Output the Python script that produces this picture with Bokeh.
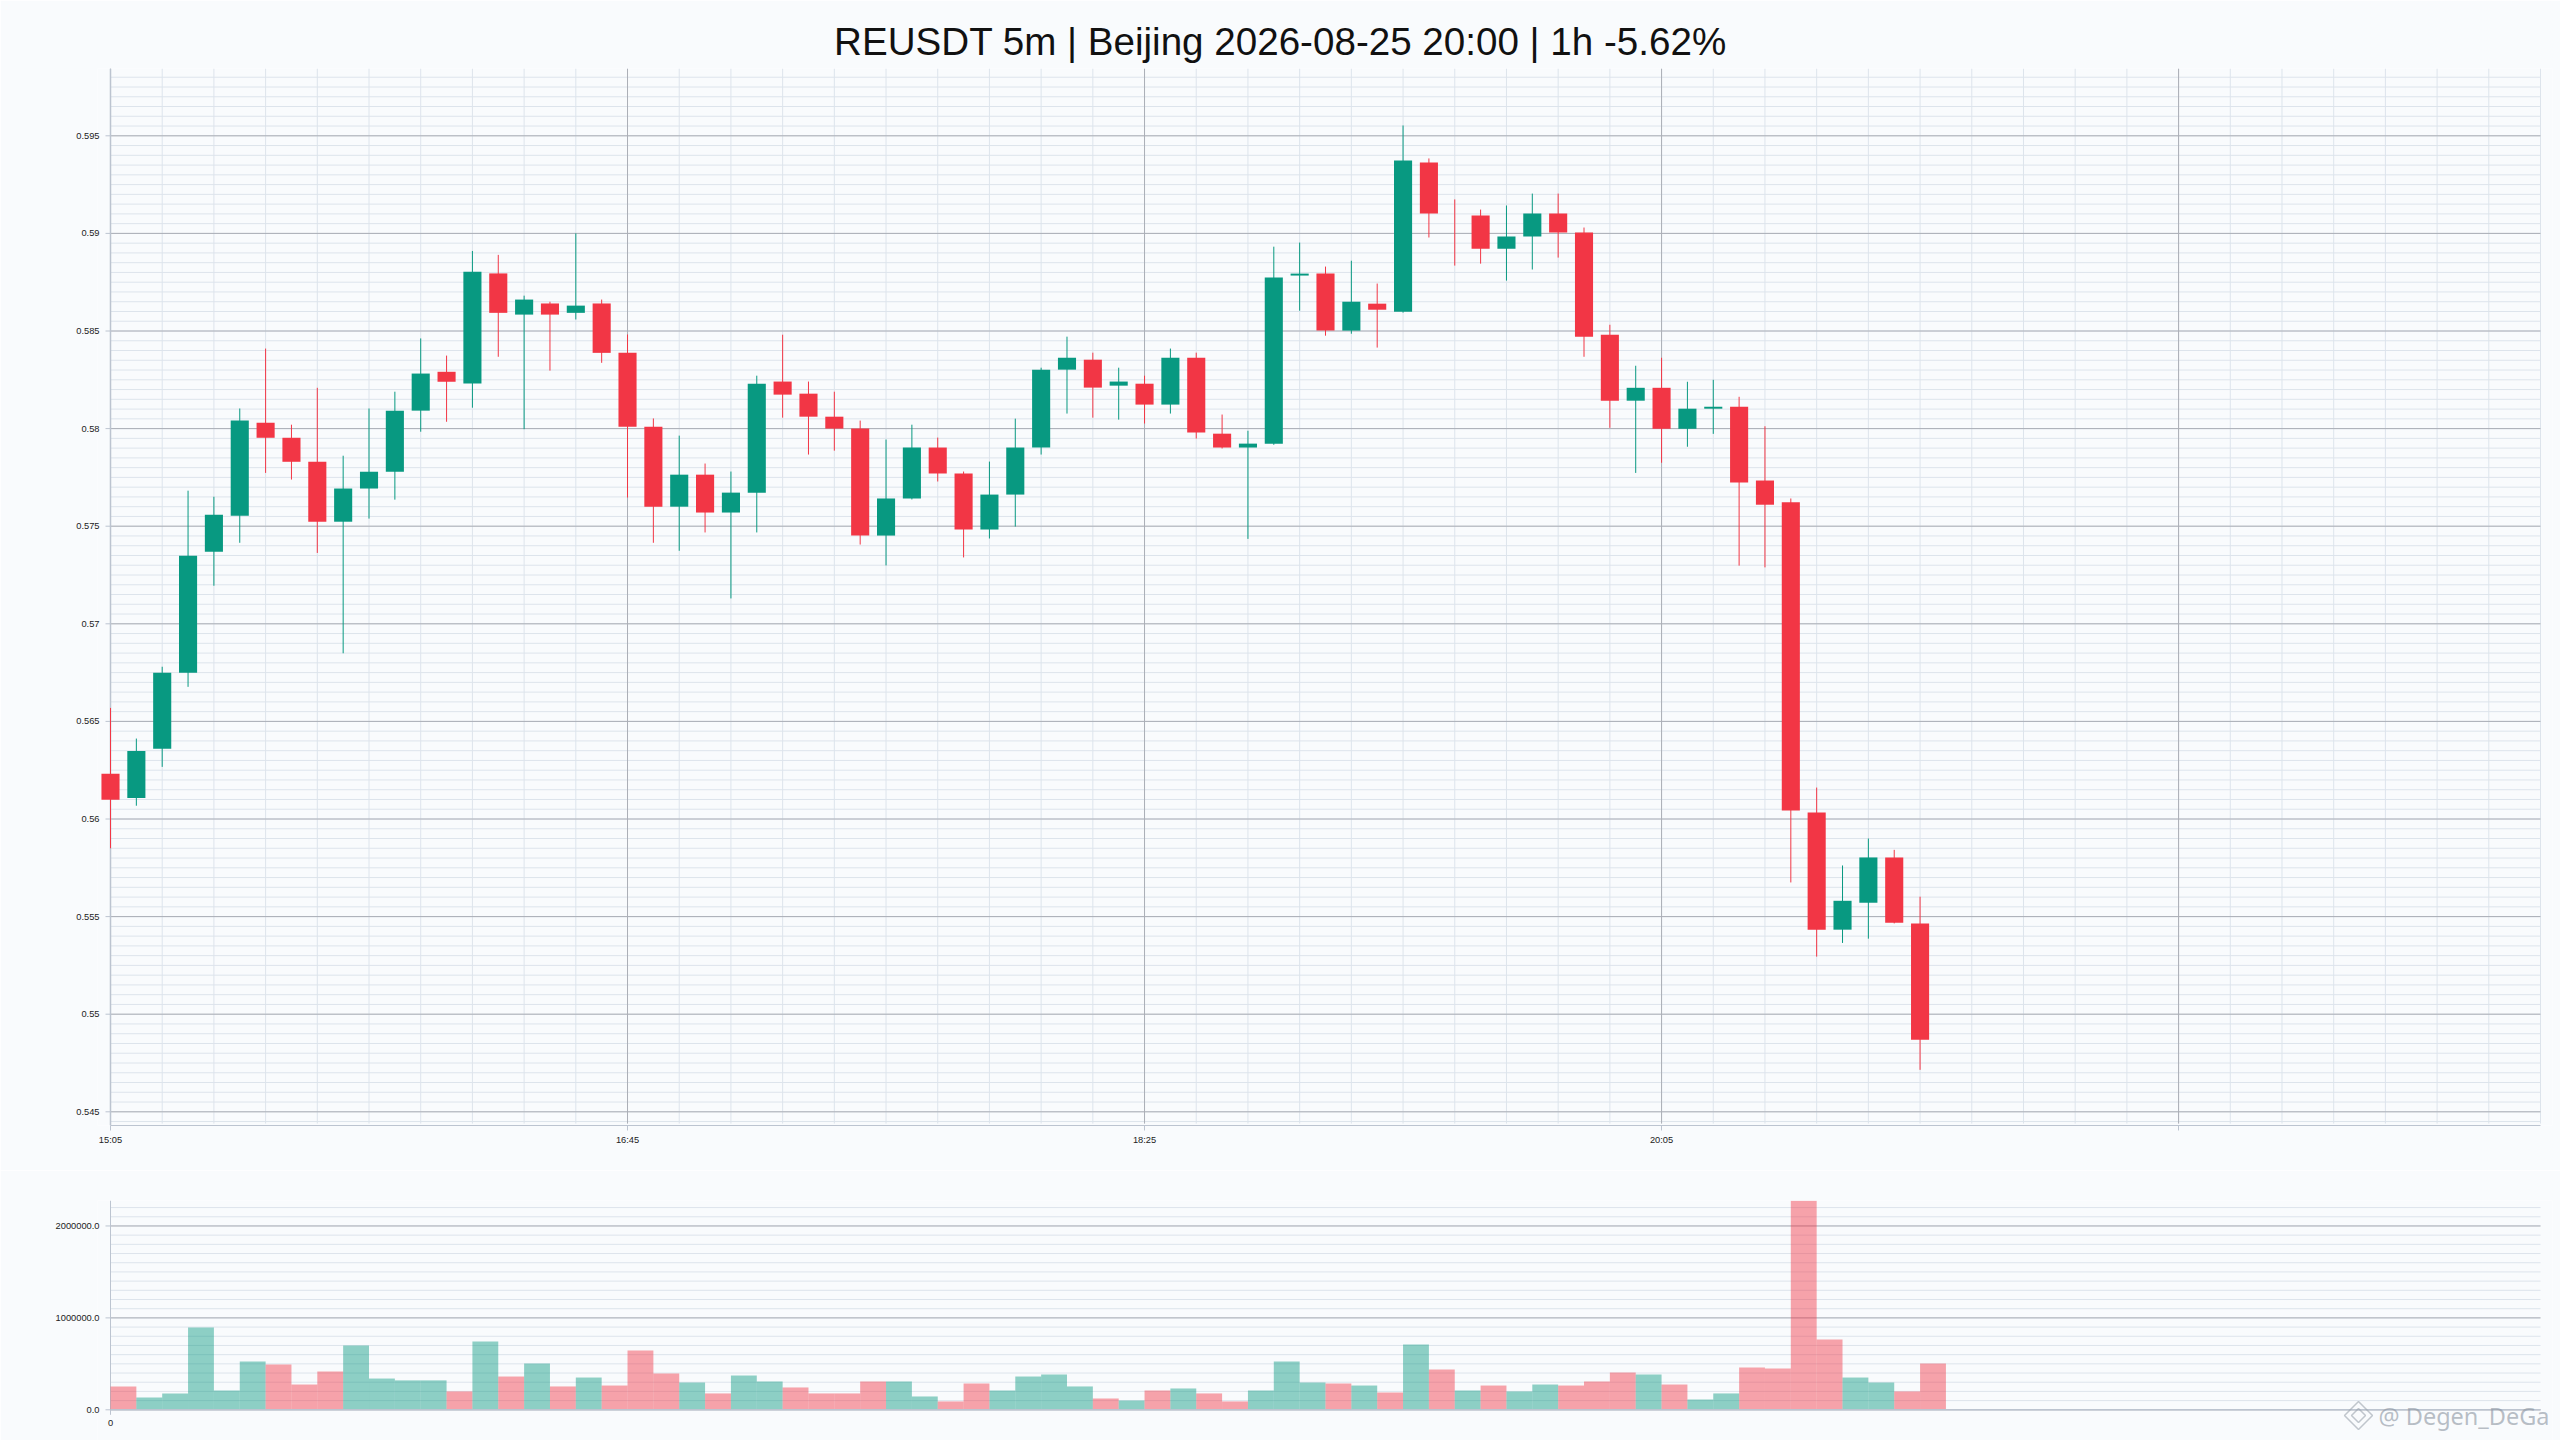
import numpy as np
from bokeh.embed import file_html
from bokeh.layouts import column
from bokeh.models import ColumnDataSource, FixedTicker, Label, PolyAnnotation, Range1d
from bokeh.plotting import figure
from bokeh.resources import INLINE

TITLE = "REUSDT 5m | Beijing 2026-08-25 20:00 | 1h -5.62%"
WATERMARK = "@ Degen_DeGa"

opens = [0.56232, 0.56108, 0.56360, 0.56749, 0.57369, 0.57554, 0.58030, 0.57953, 0.57830, 0.57523,
         0.57693, 0.57779, 0.58092, 0.58291, 0.58231, 0.58795, 0.58584, 0.58641, 0.58593, 0.58641,
         0.58388, 0.58010, 0.57600, 0.57764, 0.57570, 0.57672, 0.58241, 0.58179, 0.58061, 0.58000,
         0.57452, 0.57642, 0.57903, 0.57770, 0.57483, 0.57662, 0.57903, 0.58302, 0.58353, 0.58220,
         0.58230, 0.58123, 0.58363, 0.57974, 0.57903, 0.57922, 0.58784, 0.58794, 0.58502, 0.58640,
         0.58599, 0.59363, 0.59000, 0.59092, 0.58922, 0.58984, 0.59102, 0.59004, 0.58481, 0.58143,
         0.58209, 0.57999, 0.58102, 0.58112, 0.57734, 0.57623, 0.56033, 0.55433, 0.55571, 0.55803,
         0.55465]
closes = [0.56099, 0.56349, 0.56749, 0.57349, 0.57559, 0.58041, 0.57953, 0.57830, 0.57523, 0.57693,
          0.57779, 0.58092, 0.58282, 0.58240, 0.58804, 0.58593, 0.58661, 0.58584, 0.58630, 0.58388,
          0.58010, 0.57600, 0.57764, 0.57570, 0.57672, 0.58230, 0.58174, 0.58061, 0.58000, 0.57452,
          0.57642, 0.57903, 0.57770, 0.57483, 0.57662, 0.57903, 0.58302, 0.58363, 0.58210, 0.58241,
          0.58123, 0.58363, 0.57980, 0.57903, 0.57923, 0.58774, 0.58794, 0.58502, 0.58650, 0.58609,
          0.59374, 0.59102, 0.59000, 0.58922, 0.58984, 0.59102, 0.59004, 0.58471, 0.58143, 0.58209,
          0.57999, 0.58102, 0.58112, 0.57724, 0.57610, 0.56043, 0.55433, 0.55581, 0.55803, 0.55469,
          0.54869]
highs = [0.56569, 0.56412, 0.56780, 0.57682, 0.57651, 0.58103, 0.58410, 0.58020, 0.58209, 0.57861,
         0.58103, 0.58189, 0.58462, 0.58374, 0.58910, 0.58890, 0.58681, 0.58650, 0.59000, 0.58661,
         0.58482, 0.58052, 0.57964, 0.57821, 0.57780, 0.58271, 0.58481, 0.58241, 0.58189, 0.58041,
         0.57944, 0.58020, 0.57954, 0.57780, 0.57831, 0.58051, 0.58312, 0.58471, 0.58389, 0.58312,
         0.58271, 0.58410, 0.58389, 0.58072, 0.57989, 0.58932, 0.58953, 0.58830, 0.58860, 0.58743,
         0.59553, 0.59384, 0.59174, 0.59122, 0.59143, 0.59204, 0.59204, 0.59030, 0.58532, 0.58322,
         0.58363, 0.58240, 0.58250, 0.58163, 0.58012, 0.57642, 0.56161, 0.55762, 0.55900, 0.55842,
         0.55602]
lows = [0.55850, 0.56068, 0.56267, 0.56677, 0.57195, 0.57415, 0.57773, 0.57739, 0.57363, 0.56849,
        0.57539, 0.57636, 0.57984, 0.58035, 0.58107, 0.58368, 0.57997, 0.58297, 0.58559, 0.58337,
        0.57647, 0.57415, 0.57374, 0.57468, 0.57130, 0.57468, 0.58056, 0.57867, 0.57887, 0.57406,
        0.57299, 0.57637, 0.57729, 0.57340, 0.57437, 0.57498, 0.57867, 0.58077, 0.58056, 0.58046,
        0.58026, 0.58077, 0.57949, 0.57898, 0.57435, 0.57917, 0.58604, 0.58476, 0.58486, 0.58415,
        0.58594, 0.58979, 0.58835, 0.58845, 0.58758, 0.58815, 0.58876, 0.58368, 0.58004, 0.57773,
        0.57825, 0.57907, 0.57973, 0.57298, 0.57289, 0.55675, 0.55295, 0.55365, 0.55387, 0.55465,
        0.54715]
volumes = [254000, 134000, 178000, 895000, 210000, 525000, 493000, 275000, 417000, 700000,
           340000, 320000, 320000, 200000, 743000, 362000, 504000, 254000, 351000, 264000,
           645000, 395000, 297000, 178000, 373000, 308000, 243000, 178000, 178000, 308000,
           308000, 145000, 91000, 286000, 210000, 362000, 384000, 254000, 123000, 101000,
           210000, 232000, 178000, 91000, 210000, 525000, 297000, 286000, 264000, 188000,
           710000, 438000, 210000, 264000, 200000, 275000, 264000, 308000, 406000, 384000,
           275000, 112000, 178000, 460000, 449000, 2275000, 764000, 351000, 297000, 200000,
           504000]

price_ticks = [0.595, 0.59, 0.585, 0.58, 0.575, 0.57, 0.565, 0.56, 0.555, 0.55, 0.545]
price_labels = ["0.595", "0.59", "0.585", "0.58", "0.575", "0.57", "0.565", "0.56", "0.555", "0.55", "0.545"]
time_ticks = [0, 20, 40, 60, 80]
time_labels = ["15:05", "16:45", "18:25", "20:05", ""]
volume_ticks = [0, 1000000, 2000000]
volume_labels = ["0.0", "1000000.0", "2000000.0"]

BG = "#f9fbfd"
UP = "#089981"
DOWN = "#f23645"
MAJOR = "#abaeb6"
MINOR = "#dde4ec"
AXIS = "#bcc4d0"
LABEL = "#222222"
FONT = "Liberation Sans"

n = np.arange(len(opens))
XMAX = 94
PX = 2430 / XMAX
X_START = -13 / PX
X_END = XMAX + 12 / PX
PRICE_TOP = 0.595 + (135.3 - 68) / 19520
PRICE_BOTTOM = 0.545 - (1125 - 1111.3) / 19520
VOL_TOP = 2277000
VOL_PER_PX = 10879
VOL_BOTTOM = -30.7 * VOL_PER_PX


def style_axis(axis, ticks, labels, standoff):
    axis.ticker = FixedTicker(ticks=ticks)
    axis.major_label_overrides = dict(zip(ticks, labels))
    axis.axis_line_color = None
    axis.major_tick_line_color = None
    axis.major_tick_in = 0
    axis.major_tick_out = 0
    axis.minor_tick_line_color = None
    axis.major_label_text_font = FONT
    axis.major_label_text_font_size = "9.3px"
    axis.major_label_text_color = LABEL
    axis.major_label_standoff = standoff


tick_len = 5 / PX

# ---------- price panel ----------
price = figure(
    width=2560, height=1170, frame_width=2455, frame_height=1057,
    min_border_left=97, min_border_right=8, min_border_top=68, min_border_bottom=45,
    x_range=Range1d(X_START, X_END), y_range=Range1d(PRICE_BOTTOM, PRICE_TOP),
    output_backend="svg", toolbar_location=None, background_fill_color=BG, border_fill_color=BG,
    outline_line_color=None,
)
price.grid.visible = False

h_minor = np.arange(0.5445, 0.5985, 0.0005)
v_minor = np.arange(0, XMAX + 1, 2)
price.segment(x0=0, x1=XMAX, y0=h_minor, y1=h_minor, line_color=MINOR, line_width=1, level="underlay")
price.segment(x0=v_minor, x1=v_minor, y0=PRICE_BOTTOM + 0.0001, y1=PRICE_TOP, line_color=MINOR, line_width=1, level="underlay")
price.segment(x0=0, x1=XMAX, y0=price_ticks, y1=price_ticks, line_color=MAJOR, line_width=1, level="underlay")
price.segment(x0=time_ticks, x1=time_ticks, y0=PRICE_BOTTOM + 0.0001, y1=PRICE_TOP, line_color=MAJOR, line_width=1, level="underlay")
price.segment(x0=-tick_len, x1=0, y0=price_ticks, y1=price_ticks, line_color=AXIS, line_width=1, level="underlay")
price.segment(x0=0, x1=0, y0=PRICE_BOTTOM, y1=PRICE_TOP, line_color=AXIS, line_width=1.5, level="underlay")

colors = [UP if c > o else DOWN for o, c in zip(opens, closes)]
candles = ColumnDataSource(dict(
    x=n, open=opens, close=closes, high=highs, low=lows, color=colors,
    top=np.maximum(opens, closes), bottom=np.minimum(opens, closes),
))
price.segment(x0="x", x1="x", y0="low", y1="high", line_color="color", line_width=1, source=candles)
price.vbar(x="x", width=0.7, top="top", bottom="bottom", fill_color="color", line_color=None, source=candles)

style_axis(price.yaxis[0], price_ticks, price_labels, -2)
style_axis(price.xaxis[0], time_ticks, time_labels, 9)
price.xaxis[0].axis_line_color = AXIS
price.xaxis[0].major_tick_line_color = AXIS
price.xaxis[0].major_tick_out = 5
price.xaxis[0].major_label_standoff = 4
price.xaxis[0].bounds = (0, XMAX)
price.add_layout(Label(x=1280, y=41, x_units="canvas", y_units="canvas", text=TITLE,
                       text_font=FONT, text_font_size="38.6px", text_color="#111111",
                       text_align="center", text_baseline="alphabetic"), "above")

# ---------- volume panel ----------
vol = figure(
    width=2560, height=270, frame_width=2455, frame_height=240,
    min_border_left=97, min_border_right=8, min_border_top=30, min_border_bottom=0,
    x_range=Range1d(X_START, X_END), y_range=Range1d(VOL_BOTTOM, VOL_TOP),
    output_backend="svg", toolbar_location=None, background_fill_color=BG, border_fill_color=BG,
    outline_line_color=None,
)
vol.grid.visible = False
vol_minor = np.arange(0, 2300000, 100000)
vol.segment(x0=0, x1=XMAX, y0=vol_minor, y1=vol_minor, line_color=MINOR, line_width=1, level="underlay")
vol.segment(x0=0, x1=XMAX, y0=volume_ticks, y1=volume_ticks, line_color=MAJOR, line_width=1, level="underlay")
vol.segment(x0=-tick_len, x1=0, y0=volume_ticks, y1=volume_ticks, line_color=AXIS, line_width=1, level="underlay")
vol.segment(x0=0, x1=0, y0=0, y1=VOL_TOP, line_color=AXIS, line_width=1, level="underlay")
vol.segment(x0=0, x1=0, y0=-5 * VOL_PER_PX, y1=0, line_color=AXIS, line_width=1, level="underlay")

vol_colors = [UP if c >= o else DOWN for o, c in zip(opens, closes)]
vol.vbar(x=n + 0.5, width=1, top=volumes, bottom=0, fill_color=vol_colors, fill_alpha=0.45, line_color=None)
vol.segment(x0=0, x1=XMAX, y0=0, y1=0, line_color=AXIS, line_width=1.5)

style_axis(vol.yaxis[0], volume_ticks, volume_labels, -2)
style_axis(vol.xaxis[0], [0], ["0"], -21)

Y0 = 245
CX = 2358
vol.add_layout(PolyAnnotation(xs=[CX - 14, CX, CX + 14, CX], ys=[Y0, Y0 - 14, Y0, Y0 + 14],
                              xs_units="canvas", ys_units="canvas", fill_alpha=0,
                              line_color="#9aa3ad", line_alpha=0.6, line_width=1.5))
vol.add_layout(PolyAnnotation(xs=[CX - 7, CX, CX + 7, CX], ys=[Y0, Y0 - 7, Y0, Y0 + 7],
                              xs_units="canvas", ys_units="canvas", fill_alpha=0,
                              line_color="#9aa3ad", line_alpha=0.6, line_width=1.5))
vol.add_layout(Label(x=2378, y=Y0, x_units="canvas", y_units="canvas", text=WATERMARK,
                     text_font="Noto Sans", text_font_size="23.5px", text_color="#8a94a0", text_alpha=0.6,
                     text_align="left", text_baseline="middle"))

page = column(price, vol, spacing=0)
open("out.html", "w").write(file_html(page, INLINE))
